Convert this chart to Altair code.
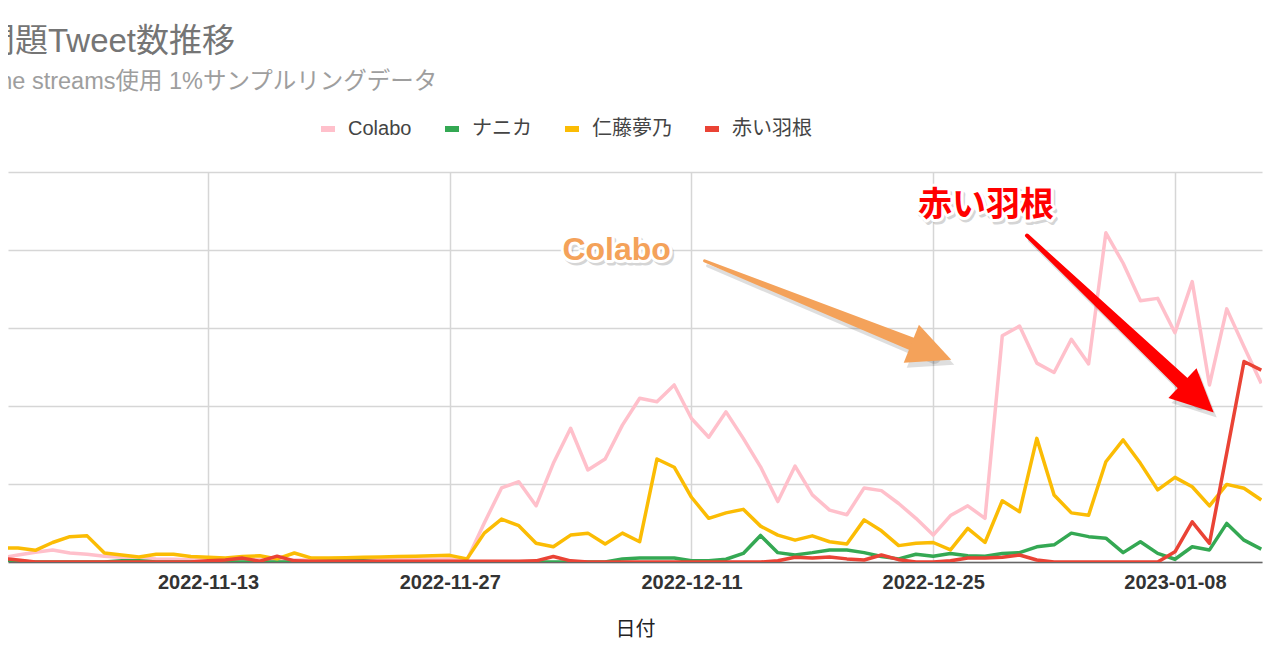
import altair as alt
import pandas as pd

# ---------------- data ----------------
dates = pd.date_range("2022-11-01", periods=74, freq="D").strftime("%Y-%m-%dT00:00:00").tolist()

series_names = ["Colabo", "ナニカ", "仁藤夢乃", "赤い羽根"]
series_colors = ["#ffc0cb", "#34a853", "#fbbc04", "#ea4335"]

colabo = [1.0, 1.8, 2.5, 3.1, 2.3, 2.0, 1.5, 1.2, 1.0, 0.8, 0.7, 0.6, 0.5, 0.5,
          0.5, 0.6, 0.5, 0.5, 0.5, 0.5, 0.5, 0.5, 0.6, 0.6, 0.7, 0.7, 0.8,
          0.5, 10.0, 19.0, 20.6, 14.4, 25.3, 34.3, 23.6, 26.4, 35.1, 42.0, 41.1,
          45.4, 36.8, 32.0, 38.5, 31.7, 24.4, 15.5, 24.6, 17.2, 13.3, 12.1, 19.0,
          18.3, 15.0, 11.2, 6.9, 11.9, 14.4, 11.2, 58.0, 60.5, 51.0, 48.6, 57.1,
          50.8, 84.4, 76.6, 67.0, 67.6, 58.8, 71.9, 45.4, 64.9, 55.2, 45.8]

nanika = [0.5, 0.2, 0.0, 0.0, 0.0, 0.0, 0.0, 0.3, 0.3, 0.0, 0.0, 0.0, 0.0, 0.0,
          0.0, 0.0, 0.0, 0.0, 0.0, 0.3, 0.3, 0.3, 0.0, 0.0, 0.0, 0.0, 0.0,
          0.0, 0.0, 0.0, 0.0, 0.0, 0.0, 0.0, 0.0, 0.0, 0.8, 1.0, 1.0,
          1.0, 0.3, 0.3, 0.7, 2.2, 6.8, 2.4, 1.8, 2.4, 3.1, 3.1, 2.4,
          1.4, 0.8, 2.0, 1.5, 2.2, 1.6, 1.5, 2.2, 2.4, 3.9, 4.4, 7.4,
          6.5, 6.1, 2.4, 5.2, 2.2, 0.7, 3.9, 3.1, 9.9, 5.6, 3.3]

nito = [3.6, 3.6, 3.0, 5.0, 6.5, 6.7, 2.3, 1.8, 1.3, 2.0, 2.0, 1.4, 1.2, 1.0,
        1.4, 1.6, 0.8, 2.3, 1.0, 1.0, 1.1, 1.2, 1.3, 1.4, 1.5, 1.6, 1.7,
        0.8, 7.4, 11.0, 9.3, 4.8, 3.9, 6.9, 7.4, 4.6, 7.4, 5.2, 26.4,
        24.3, 16.6, 11.2, 12.6, 13.5, 9.2, 6.9, 5.6, 6.7, 5.2, 4.6, 10.8,
        8.0, 4.2, 4.8, 5.0, 3.1, 8.6, 5.0, 15.7, 12.9, 31.7, 17.2, 12.6,
        12.0, 25.7, 31.3, 25.3, 18.5, 21.7, 19.3, 14.4, 19.9, 18.9, 15.9]

akai = [1.0, 0.5, 0.0, 0.0, 0.0, 0.0, 0.0, 0.0, 0.0, 0.0, 0.0, 0.0, 0.3, 0.5,
        1.0, 0.2, 1.5, 0.3, 0.2, 0.2, 0.2, 0.2, 0.2, 0.2, 0.2, 0.2, 0.2,
        0.2, 0.2, 0.2, 0.2, 0.3, 1.4, 0.3, 0.0, 0.0, 0.0, 0.0, 0.0,
        0.0, 0.0, 0.0, 0.0, 0.0, 0.0, 0.3, 1.2, 1.0, 1.3, 0.8, 0.5,
        1.8, 0.6, 0.0, 0.0, 0.3, 1.0, 1.0, 1.2, 1.8, 0.5, 0.0, 0.0,
        0.0, 0.0, 0.0, 0.0, 0.0, 2.6, 10.3, 4.8, 28.0, 51.4, 49.2]

tick_dates = [(2022, 11, 13), (2022, 11, 27), (2022, 12, 11), (2022, 12, 25), (2023, 1, 8)]
y_ticks = [0, 20, 40, 60, 80, 100]

title_text = "問題Tweet数推移"
subtitle_text = "Volume streams使用 1%サンプルリングデータ"
x_title = "日付"

# annotations (in data coordinates)
ann_texts = ["Colabo", "赤い羽根"]
ann_dates = ["2022-12-06T16:00:00", "2022-12-28T01:30:00"]
ann_values = [80.0, 91.2]
ann_colors = ["#f4a25a", "#ff0000"]
ann_sizes = [32, 34]

arrow_ids = ["colabo", "colabo", "akai", "akai"]
arrow_dates = ["2022-12-11T18:15:00", "2022-12-24T21:20:00",
               "2022-12-30T10:20:00", "2023-01-09T08:10:00"]
arrow_values = [77.2, 53.9, 83.7, 42.1]
arrow_widths = [3, 14, 4, 15]
arrow_colors = ["#f4a25a", "#f4a25a", "#ff0000", "#ff0000"]

head_dates = ["2022-12-24T21:20:00", "2023-01-09T08:10:00"]
head_values = [53.9, 42.1]
head_angles = [21.8, 43.4]
head_colors = ["#f4a25a", "#ff0000"]

# ---------------- frames ----------------
rows = []
for name, vals in zip(series_names, [colabo, nanika, nito, akai]):
    for d, v in zip(dates, vals):
        rows.append({"date": d, "value": v, "series": name})
df = pd.DataFrame(rows)

ann_df = pd.DataFrame({"date": ann_dates, "value": ann_values, "text": ann_texts,
                       "c": ann_colors, "fs": ann_sizes})
arrow_df = pd.DataFrame({"id": arrow_ids, "date": arrow_dates, "value": arrow_values,
                         "w": arrow_widths, "c": arrow_colors})
head_df = pd.DataFrame({"date": head_dates, "value": head_values,
                        "angle": head_angles, "c": head_colors})

FONT = "Liberation Sans, Noto Sans CJK JP, sans-serif"

x_enc = alt.X(
    "date:T",
    scale=alt.Scale(domain=[alt.DateTime(year=2022, month=11, date=1, hours=10),
                            alt.DateTime(year=2023, month=1, date=13, hours=1)]),
    axis=alt.Axis(
        values=[alt.DateTime(year=y, month=m, date=d) for (y, m, d) in tick_dates],
        format="%Y-%m-%d", formatType="time",
        labelFontSize=20, labelFontWeight="bold", labelColor="#333333", labelFont=FONT,
        labelPadding=10, ticks=False, tickSize=0,
        domain=True, domainColor="#666666", domainWidth=1.5,
        grid=True, gridColor="#d6d6d6", gridWidth=1.5,
        title=x_title, titleFontSize=20, titleFontWeight="normal", titleColor="#222222",
        titleFont=FONT, titlePadding=27,
    ),
)
y_enc = alt.Y(
    "value:Q",
    scale=alt.Scale(domain=[0, 100], nice=False),
    axis=alt.Axis(values=y_ticks, labels=False, ticks=False, domain=False, grid=True,
                  gridColor="#d6d6d6", gridWidth=1.5, title=None),
)

lines = alt.Chart(df).mark_line(strokeWidth=3.5, clip=True, strokeJoin="round").encode(
    x=x_enc,
    y=y_enc,
    color=alt.Color(
        "series:N",
        scale=alt.Scale(domain=series_names, range=series_colors),
        legend=alt.Legend(
            orient="none", legendX=310, legendY=-53, direction="horizontal", title=None,
            symbolType="stroke", symbolStrokeWidth=6, symbolSize=196,
            labelFontSize=20, labelColor="#444444", labelFont=FONT,
            columnPadding=21, labelOffset=10,
        ),
    ),
)

# arrow shadows
trail_shadow = alt.Chart(arrow_df).mark_trail(color="black", opacity=0.13, xOffset=3, yOffset=5).encode(
    x="date:T", y="value:Q", size=alt.Size("w:Q", scale=None), detail="id:N")
head_shadow = alt.Chart(head_df).mark_point(
    shape="M1,0L-1,-0.95L-1,0.95Z", filled=True, size=1850, opacity=0.13,
    color="black", xOffset=3, yOffset=5, strokeWidth=0).encode(
    x="date:T", y="value:Q", angle=alt.Angle("angle:Q", scale=None))

trail = alt.Chart(arrow_df).mark_trail().encode(
    x="date:T", y="value:Q", size=alt.Size("w:Q", scale=None), detail="id:N",
    color=alt.Color("c:N", scale=None))
head = alt.Chart(head_df).mark_point(
    shape="M1,0L-1,-0.95L-1,0.95Z", filled=True, size=1850, opacity=1, strokeWidth=0).encode(
    x="date:T", y="value:Q", angle=alt.Angle("angle:Q", scale=None),
    color=alt.Color("c:N", scale=None))

# annotation texts: shadow, halo, fill
txt_shadow = alt.Chart(ann_df).mark_text(
    font=FONT, fontWeight="bold", color="#000000", stroke="#000000", strokeWidth=5,
    opacity=0.16, dx=2, dy=3, strokeJoin="round").encode(
    x="date:T", y="value:Q", text="text:N", size=alt.Size("fs:Q", scale=None))
txt_halo = alt.Chart(ann_df).mark_text(
    font=FONT, fontWeight="bold", color="white", stroke="white", strokeWidth=6,
    strokeJoin="round").encode(
    x="date:T", y="value:Q", text="text:N", size=alt.Size("fs:Q", scale=None))
txt_main = alt.Chart(ann_df).mark_text(font=FONT, fontWeight="bold").encode(
    x="date:T", y="value:Q", text="text:N", size=alt.Size("fs:Q", scale=None),
    color=alt.Color("c:N", scale=None))

title_mark = alt.Chart(pd.DataFrame({"t": [title_text]})).mark_text(
    font=FONT, fontSize=33, color="#757575", align="left", baseline="middle").encode(
    x=alt.value(-26), y=alt.value(-130), text="t:N")
subtitle_mark = alt.Chart(pd.DataFrame({"t": [subtitle_text]})).mark_text(
    font=FONT, fontSize=23.5, color="#9e9e9e", align="left", baseline="middle").encode(
    x=alt.value(-61), y=alt.value(-90), text="t:N")

chart = alt.layer(
    lines, trail_shadow, head_shadow, trail, head,
    txt_shadow, txt_halo, txt_main, title_mark, subtitle_mark,
).properties(
    width=1254, height=390,
    autosize=alt.AutoSizeParams(type="none"),
    padding={"left": 0, "top": 164, "right": 2, "bottom": 100},
    background="white",
).configure_view(stroke=None)

chart.save("out.html", embed_options={"renderer": "svg", "actions": False})
